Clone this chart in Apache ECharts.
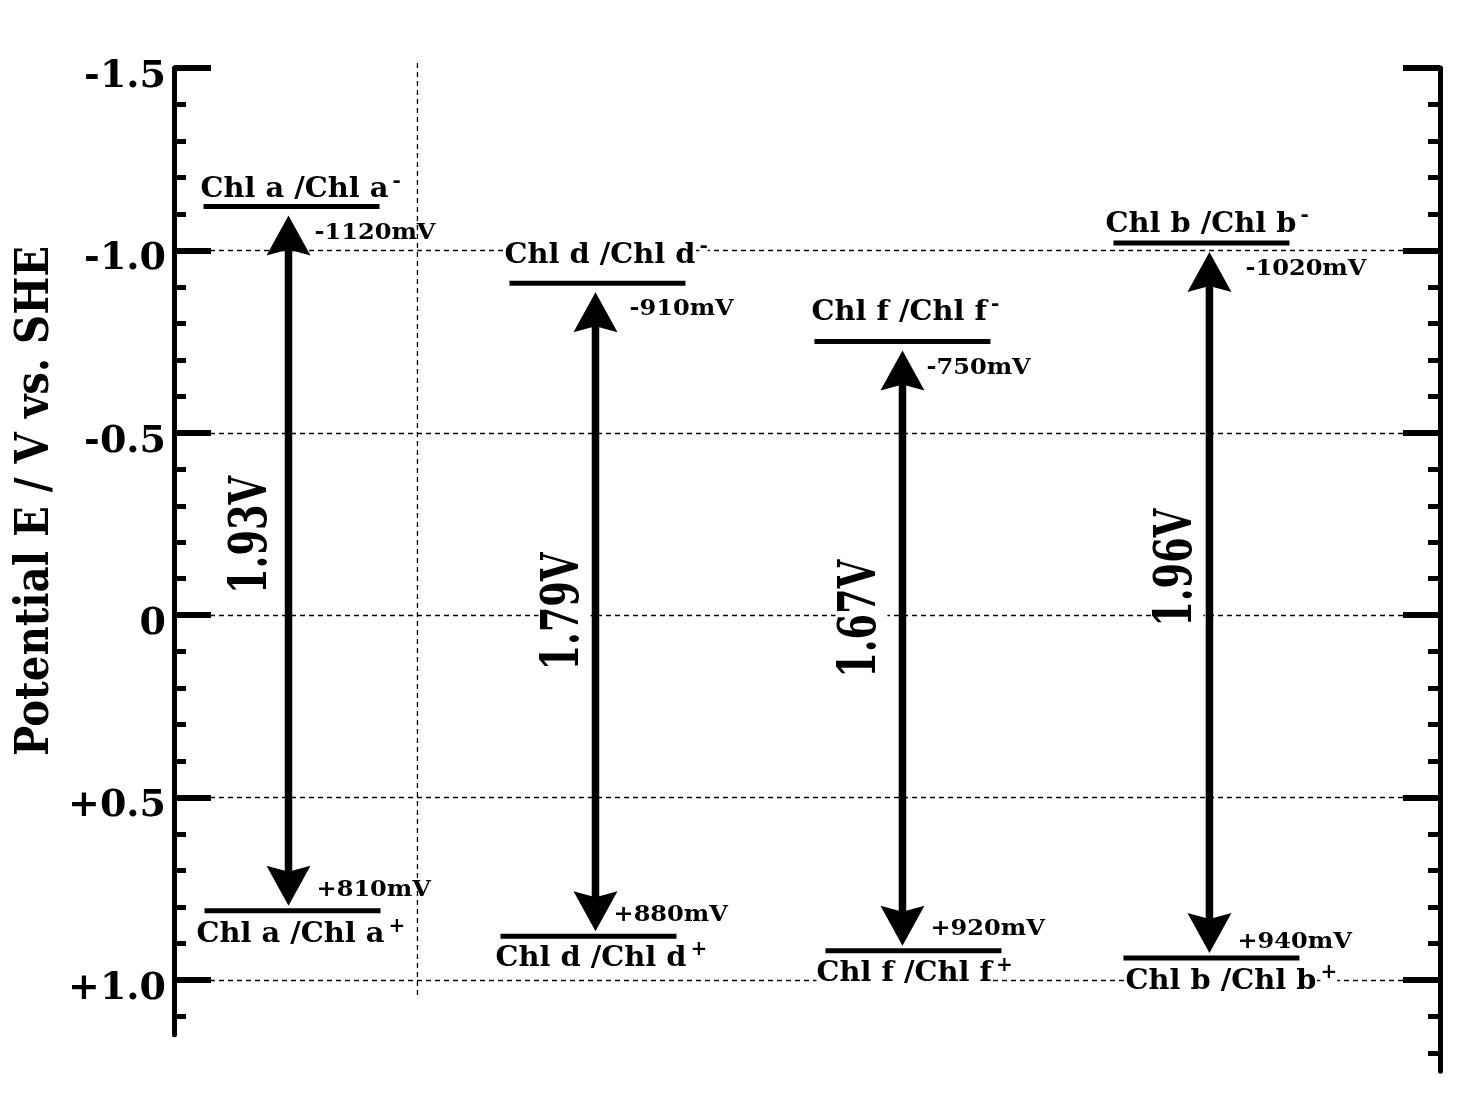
<!DOCTYPE html>
<html>
<head>
<meta charset="utf-8">
<script src="https://cdn.jsdelivr.net/npm/echarts@6/dist/echarts.min.js"></script>
<style>
  html, body { margin: 0; padding: 0; background: #fff; }
  #chart { width: 1462px; height: 1113px; }
</style>
</head>
<body>
<div id="chart"></div>
<script>
// one column per chlorophyll
const pigments = ['a', 'd', 'f', 'b'];
const reducedMv = [-1120, -910, -750, -1020];   // Chl/Chl- level
const oxidizedMv = [810, 880, 920, 940];         // Chl/Chl+ level
const gapLabels = ['1.93V', '1.79V', '1.67V', '1.96V'];

// potential axis (V vs. SHE), drawn inverted
const majorTicks = [-1.5, -1.0, -0.5, 0, 0.5, 1.0];
const majorTickLabels = ['-1.5', '-1.0', '-0.5', '0', '+0.5', '+1.0'];
const minorTicksLeft = [-1.4, -1.3, -1.2, -1.1, -0.9, -0.8, -0.7, -0.6, -0.4, -0.3, -0.2, -0.1,
                        0.1, 0.2, 0.3, 0.4, 0.6, 0.7, 0.8, 0.9, 1.1];
const minorTicksRight = minorTicksLeft.concat([1.2]);
const gridLines = [-1.0, -0.5, 0, 0.5, 1.0];
const guide = [0.42, -1.5, 1.047];   // vertical dashed guide: x, from, to

// layout only (pixel offsets from the arrow / level bar)
const SERIF = '"DejaVu Serif", serif';
const BAR_LEN = 176;
const layout = [
  { topBar: -85, botBar: -84, topLab: [-88, -7],  topMv: 26, botMv: [28, -21], botLab: [-92, 34],  gap: [-36, -0.22] },
  { topBar: -86, botBar: -95, topLab: [-91, -18], topMv: 34, botMv: [18, -21], botLab: [-100, 32], gap: [-31, -0.01] },
  { topBar: -88, botBar: -77, topLab: [-91, -19], topMv: 24, botMv: [28, -22], botLab: [-86, 33],  gap: [-41, 0.01] },
  { topBar: -96, botBar: -86, topLab: [-104, -9], topMv: 36, botMv: [28, -16], botLab: [-84, 33],  gap: [-32, -0.13] }
];

const measureCtx = document.createElement('canvas').getContext('2d');
function textWidth(s, font) { measureCtx.font = font; return measureCtx.measureText(s).width; }
const fontOf = size => 'bold ' + size + 'px ' + SERIF;

const LEVEL_SIZE = 28, MV_SIZE = 23, GAP_SIZE = 52, TITLE_SIZE = 46;
const levelScale = 188 / textWidth('Chl a /Chl a', fontOf(LEVEL_SIZE));
const mvScale = 121 / textWidth('-1120mV', fontOf(MV_SIZE));
const gapScale = 118 / textWidth('1.93V', fontOf(GAP_SIZE));
const titleText = 'Potential E / V vs. SHE';
const titleScale = 510 / textWidth(titleText, fontOf(TITLE_SIZE));

function text(str, x, y, size, o) {
  o = o || {};
  const align = o.align || 'left';
  return {
    type: 'text', x: x, y: y, rotation: o.rot || 0, scaleX: o.sx || 1, scaleY: 1,
    style: {
      text: str, font: fontOf(size), fill: '#000',
      align: align, verticalAlign: 'middle', textAlign: align, textVerticalAlign: 'middle',
      backgroundColor: o.bg ? '#fff' : null
    }
  };
}

function levelLabel(p, sign, x, baseline) {
  const main = 'Chl ' + p + ' /Chl ' + p;
  const w = textWidth(main, fontOf(LEVEL_SIZE)) * levelScale;
  return [
    text(main, x, baseline - 0.35 * LEVEL_SIZE, LEVEL_SIZE, { sx: levelScale, bg: true }),
    text(sign, x + w + 4, baseline - 18, 20, { bg: true })
  ];
}

function hline(x, y) {
  return { type: 'line', shape: { x1: x, y1: y, x2: x + BAR_LEN, y2: y }, style: { stroke: '#000', lineWidth: 5 } };
}

function head(cx, tip, dir) {
  return {
    type: 'polygon',
    shape: { points: [[cx, tip], [cx + 22, tip + dir * 40], [cx, tip + dir * 34], [cx - 22, tip + dir * 40]] },
    style: { fill: '#000' }
  };
}

function renderColumn(params, api) {
  const i = params.dataIndex, L = layout[i], p = pigments[i];
  const t = api.coord([api.value(0), api.value(1)]);
  const b = api.coord([api.value(0), api.value(2)]);
  const g = api.coord([api.value(0), L.gap[1]]);
  const cx = t[0], yt = t[1], yb = b[1];
  const tipT = yt + 9, tipB = yb - 5;
  const mvTop = reducedMv[i] + 'mV';
  const mvBot = '+' + oxidizedMv[i] + 'mV';
  const kids = [
    hline(cx + L.topBar, yt),
    hline(cx + L.botBar, yb),
    { type: 'line', shape: { x1: cx, y1: tipT + 33, x2: cx, y2: tipB - 33 }, style: { stroke: '#000', lineWidth: 7.5 } },
    head(cx, tipT, 1),
    head(cx, tipB, -1),
    text(mvTop, cx + L.topMv, yt + 26, MV_SIZE, { sx: mvScale }),
    text(mvBot, cx + L.botMv[0], yb + L.botMv[1], MV_SIZE, { sx: mvScale }),
    text(gapLabels[i], cx + L.gap[0], g[1], GAP_SIZE, { rot: Math.PI / 2, sx: gapScale, align: 'center', bg: true })
  ].concat(
    levelLabel(p, '-', cx + L.topLab[0], yt + L.topLab[1]),
    levelLabel(p, '+', cx + L.botLab[0], yb + L.botLab[1])
  );
  return { type: 'group', children: kids };
}

function renderGuide(params, api) {
  const a = api.coord([api.value(0), api.value(1)]);
  const b = api.coord([api.value(0), api.value(2)]);
  return {
    type: 'line', z2: 0,
    shape: { x1: a[0], y1: a[1] - 5, x2: b[0], y2: b[1] },
    style: { stroke: '#000', lineWidth: 1.3, lineDash: [5, 4] }
  };
}

function yAxisBase(grid, pos, max) {
  return {
    type: 'value', gridIndex: grid, position: pos, inverse: true, min: -1.5, max: max,
    splitLine: { show: false }, axisLabel: { show: false },
    axisLine: { show: false, onZero: false, lineStyle: { color: '#000', width: 5 } }
  };
}

const leftMajor = Object.assign(yAxisBase(0, 'left', 1.15), {
  axisLine: { show: true, onZero: false, lineStyle: { color: '#000', width: 5 } },
  axisTick: { show: true, inside: true, length: 37, customValues: majorTicks, lineStyle: { color: '#000', width: 6 } },
  axisLabel: {
    show: true, customValues: majorTicks, margin: 8, verticalAlign: 'top', lineHeight: 18,
    color: '#000', fontFamily: SERIF, fontWeight: 'bold', fontSize: 38,
    formatter: v => majorTickLabels[majorTicks.findIndex(t => Math.abs(t - v) < 1e-6)]
  }
});
const leftMinor = Object.assign(yAxisBase(0, 'left', 1.15), {
  axisTick: { show: true, inside: true, length: 12, customValues: minorTicksLeft, lineStyle: { color: '#000', width: 5 } }
});
const rightMajor = Object.assign(yAxisBase(1, 'right', 1.25), {
  axisLine: { show: true, onZero: false, lineStyle: { color: '#000', width: 5 } },
  axisTick: { show: true, inside: true, length: 37, customValues: majorTicks, lineStyle: { color: '#000', width: 6 } }
});
const rightMinor = Object.assign(yAxisBase(1, 'right', 1.25), {
  axisTick: { show: true, inside: true, length: 12, customValues: minorTicksRight, lineStyle: { color: '#000', width: 5 } }
});

const chart = echarts.init(document.getElementById('chart'));
chart.setOption({
  animation: false,
  backgroundColor: '#fff',
  grid: [
    { left: 174, right: 22, top: 68, bottom: 78.3, outerBoundsMode: 'none' },
    { left: 174, right: 22, top: 68, bottom: 41.8, outerBoundsMode: 'none' }
  ],
  xAxis: [
    { type: 'value', gridIndex: 0, show: false, min: 0, max: 1 },
    { type: 'value', gridIndex: 1, show: false, min: -0.373, max: 3.751 }
  ],
  yAxis: [leftMajor, leftMinor, rightMajor, rightMinor],
  graphic: [{
    type: 'text', x: 36, y: 501, rotation: Math.PI / 2, scaleX: titleScale,
    style: {
      text: titleText, font: fontOf(TITLE_SIZE), fill: '#000',
      align: 'center', verticalAlign: 'middle', textAlign: 'center', textVerticalAlign: 'middle'
    }
  }],
  series: [{
    type: 'custom',
    coordinateSystem: 'cartesian2d',
    xAxisIndex: 1,
    yAxisIndex: 2,
    z: 1,
    clip: false,
    renderItem: renderGuide,
    data: [guide]
  }, {
    type: 'custom',
    coordinateSystem: 'cartesian2d',
    xAxisIndex: 1,
    yAxisIndex: 2,
    renderItem: renderColumn,
    data: pigments.map((p, i) => [i, reducedMv[i] / 1000, oxidizedMv[i] / 1000]),
    markLine: {
      silent: true, symbol: 'none', z: 1,
      label: { show: false },
      lineStyle: { color: '#000', width: 1.3, type: [5, 4] },
      data: gridLines.map(v => ({ yAxis: v }))
    }
  }]
});
</script>
</body>
</html>
